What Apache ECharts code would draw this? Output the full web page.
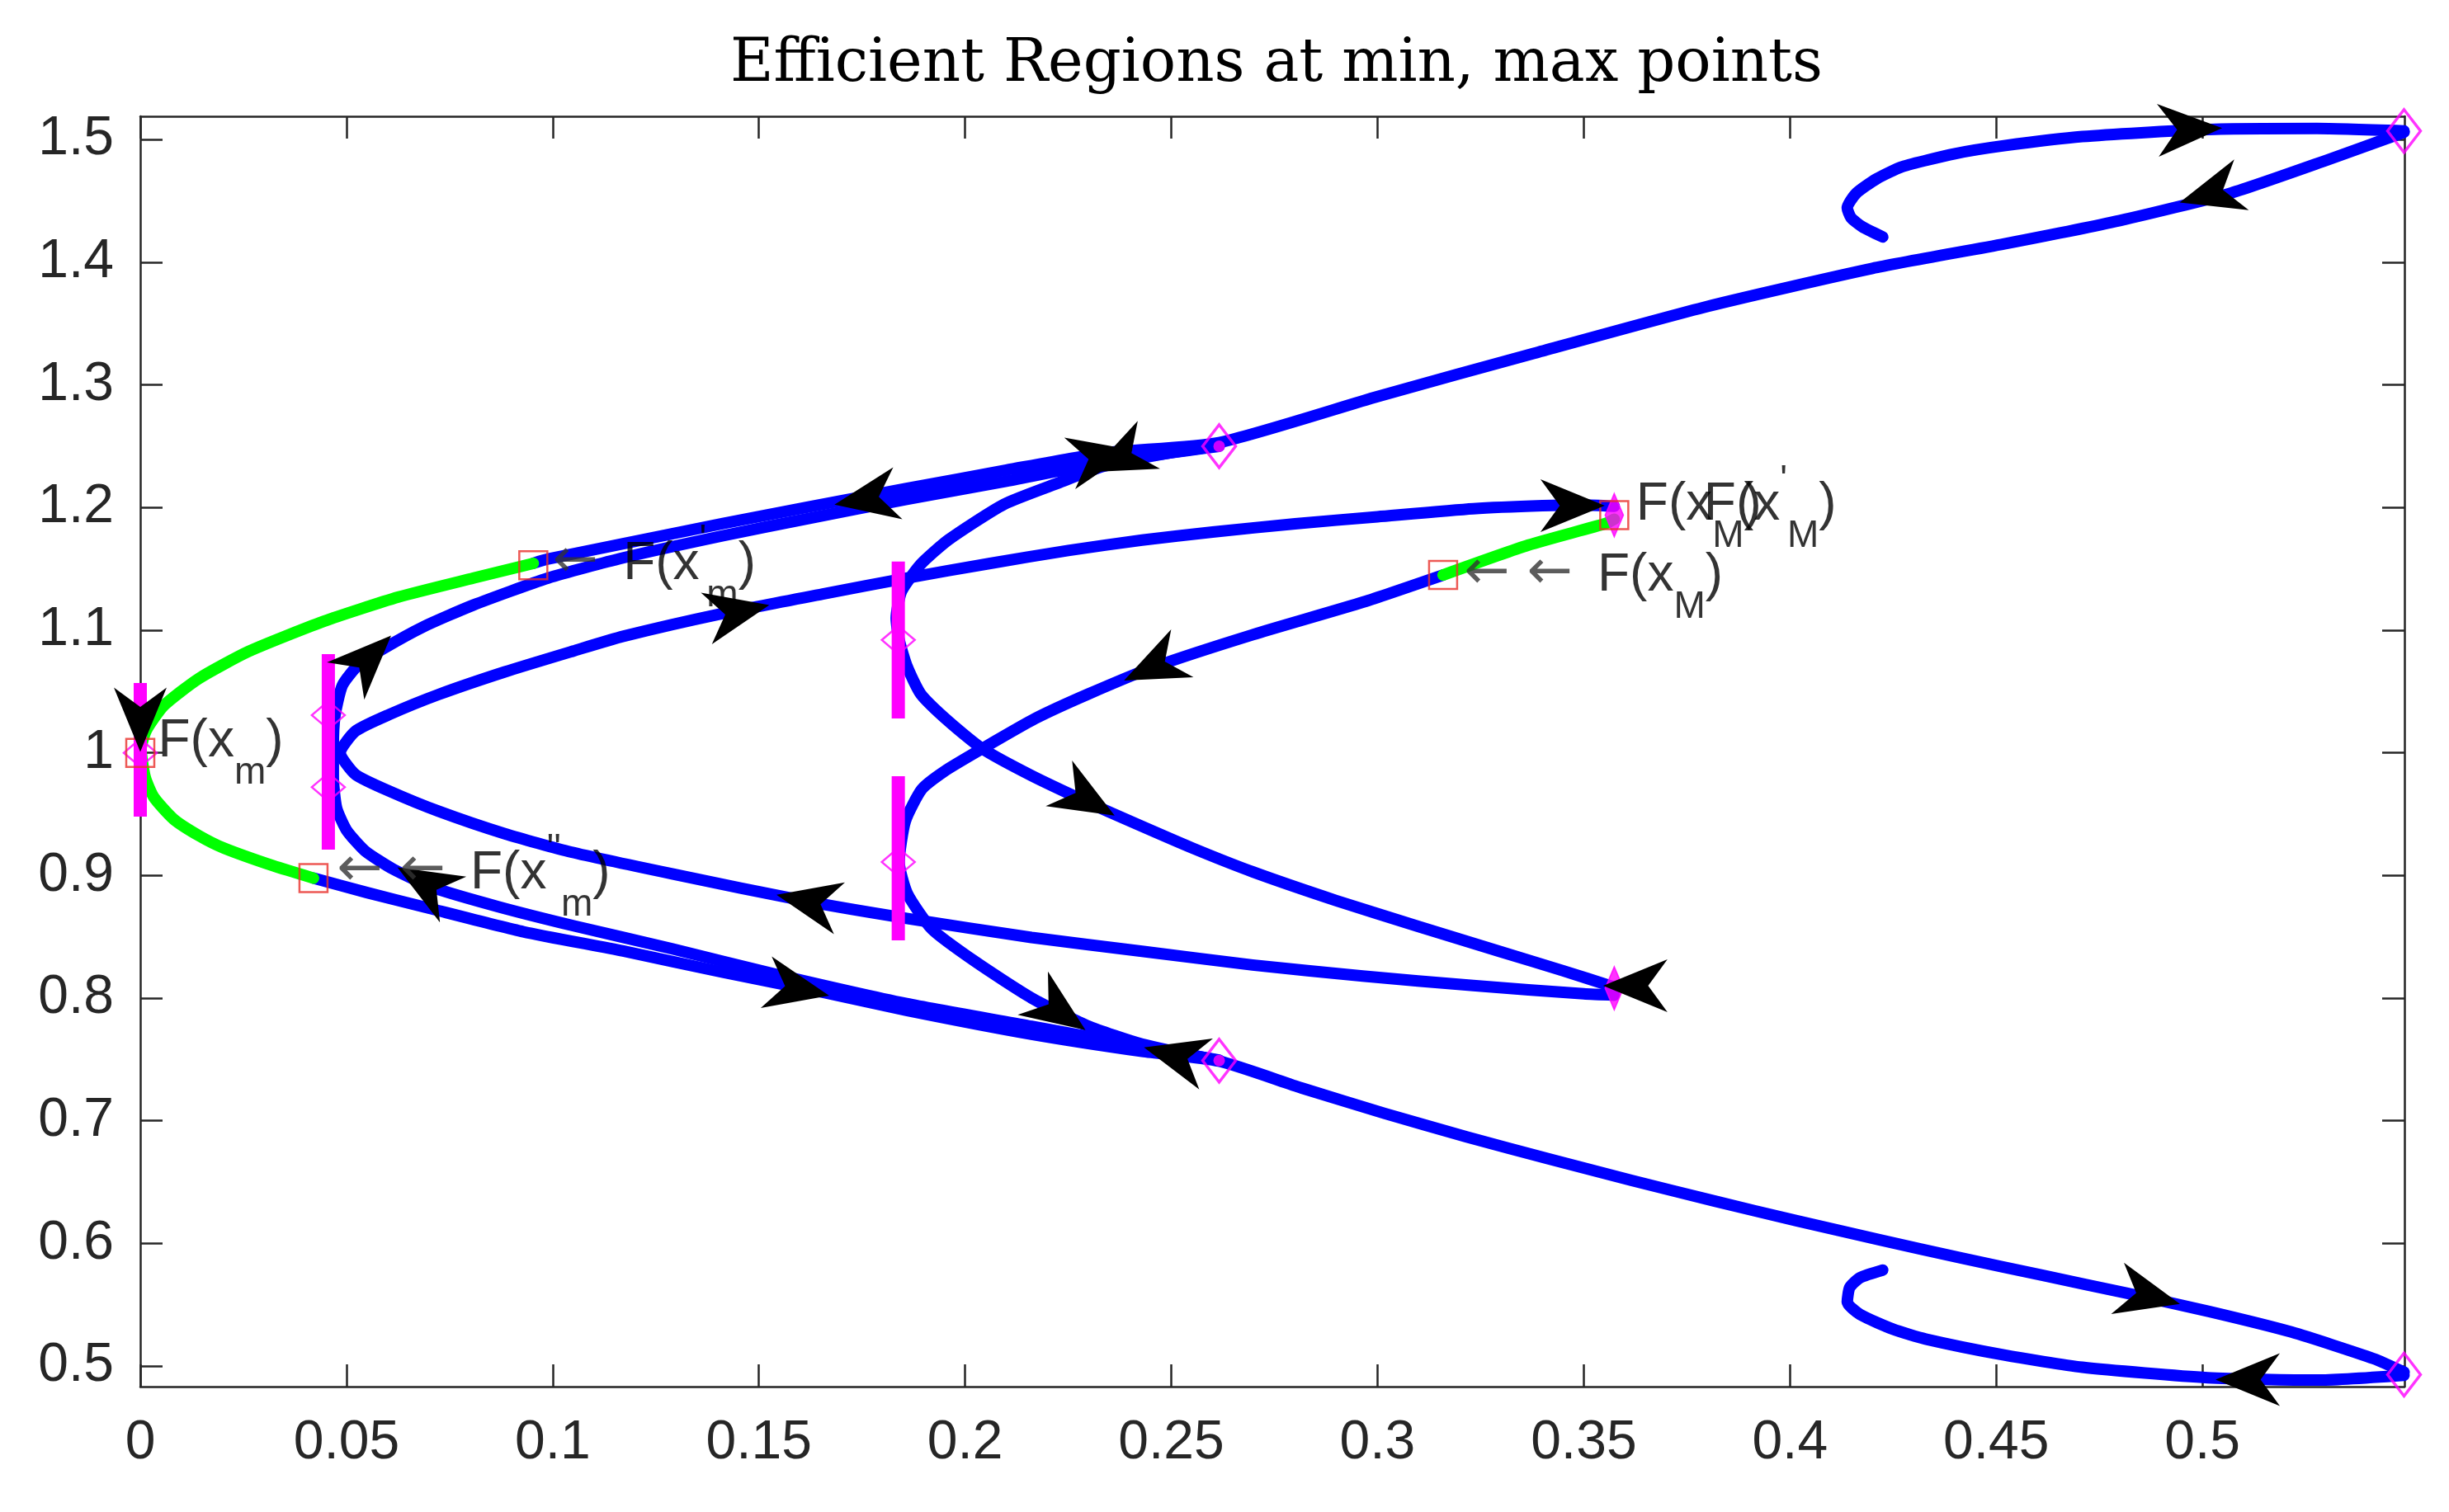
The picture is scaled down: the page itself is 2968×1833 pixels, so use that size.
<!DOCTYPE html>
<html>
<head>
<meta charset="utf-8">
<script src="https://cdn.jsdelivr.net/npm/echarts@6/dist/echarts.min.js"></script>
<style>
html,body{margin:0;padding:0;background:#fff;}
#chart{width:2968px;height:1833px;}
</style>
</head>
<body>
<div id="chart"></div>
<script>
// ---------- data ----------
const xTicks = [0, 0.05, 0.1, 0.15, 0.2, 0.25, 0.3, 0.35, 0.4, 0.45, 0.5];
const yTicks = [0.5, 0.6, 0.7, 0.8, 0.9, 1, 1.1, 1.2, 1.3, 1.4, 1.5];
const titleText = 'Efficient Regions at min, max points';

const topHook = [[0.4225,1.4206],[0.4175,1.4290],[0.4148,1.4364],[0.4139,1.4443],[0.4160,1.4560],[0.4210,1.4680],[0.4272,1.4779],[0.4400,1.4885],[0.4519,1.4950],[0.4709,1.5025],[0.4994,1.5080],[0.5278,1.5090],[0.5489,1.5070]];
const outerUpper = [[0.5489,1.5060],[0.5300,1.4830],[0.5070,1.4565],[0.4800,1.4340],[0.4520,1.4150],[0.4200,1.3950],[0.3800,1.3640],[0.3380,1.3258],[0.3000,1.2905],[0.2616,1.2530],[0.2337,1.2445],[0.2100,1.2305],[0.1858,1.2155],[0.1620,1.2005],[0.1413,1.1870],[0.1171,1.1705],[0.0989,1.1580],[0.0953,1.1545]];
const greenLeft = [[0.0953,1.1545],[0.0808,1.1425],[0.0626,1.1270],[0.0444,1.1071],[0.0263,1.0827],[0.0142,1.0606],[0.0057,1.0385],[0.0015,1.0186],[0.0002,1.0030],[0.0012,0.9800],[0.0033,0.9638],[0.0081,0.9459],[0.0142,0.9325],[0.0202,0.9224],[0.0323,0.9078],[0.0420,0.8978]];
const outerLower = [[0.0420,0.8978],[0.0550,0.8860],[0.0686,0.8745],[0.0929,0.8541],[0.1171,0.8384],[0.1413,0.8210],[0.1655,0.8048],[0.1858,0.7900],[0.2161,0.7705],[0.2429,0.7565],[0.2616,0.7486],[0.2816,0.7267],[0.3016,0.7061],[0.3216,0.6868],[0.3416,0.6688],[0.3616,0.6514],[0.3816,0.6346],[0.4016,0.6185],[0.4216,0.6030],[0.4416,0.5880],[0.4616,0.5737],[0.4816,0.5594],[0.5016,0.5445],[0.5216,0.5277],[0.5416,0.5059],[0.5489,0.4950]];
const bottomHook = [[0.4225,0.5782],[0.4170,0.5720],[0.4145,0.5640],[0.4139,0.5521],[0.4170,0.5420],[0.4250,0.5300],[0.4329,0.5220],[0.4519,0.5090],[0.4709,0.4990],[0.5013,0.4905],[0.5278,0.4885],[0.5489,0.4925]];
const innerCurve = [[0.2616,0.7495],[0.2429,0.7605],[0.2161,0.7770],[0.1858,0.7955],[0.1534,0.8200],[0.1292,0.8400],[0.1050,0.8590],[0.0868,0.8745],[0.0711,0.8900],[0.0614,0.9050],[0.0545,0.9200],[0.0500,0.9370],[0.0476,0.9550],[0.0468,0.9800],[0.0468,1.0050],[0.0472,1.0300],[0.0490,1.0550],[0.0529,1.0717],[0.0590,1.0850],[0.0686,1.1027],[0.0807,1.1204],[0.0989,1.1425],[0.1171,1.1590],[0.1413,1.1770],[0.1620,1.1910],[0.1858,1.2066],[0.2100,1.2215],[0.2337,1.2370],[0.2616,1.2500]];
const midCurve = [[0.2616,1.2505],[0.2470,1.2430],[0.2335,1.2336],[0.2228,1.2203],[0.2094,1.2026],[0.1960,1.1738],[0.1893,1.1539],[0.1846,1.1318],[0.1833,1.1097],[0.1840,1.0920],[0.1860,1.0699],[0.1893,1.0477],[0.1960,1.0256],[0.2041,1.0035],[0.2161,0.9814],[0.2295,0.9600],[0.2402,0.9440],[0.2550,0.9225],[0.2697,0.9030],[0.2900,0.8795],[0.3098,0.8585],[0.3300,0.8377],[0.3450,0.8223],[0.3574,0.8090]];
const greenRight = [[0.3574,1.1905],[0.3554,1.1871],[0.3366,1.1694],[0.3159,1.1450]];
const midCurve2 = [[0.3159,1.1450],[0.2966,1.1230],[0.2698,1.0964],[0.2457,1.0699],[0.2297,1.0477],[0.2170,1.0280],[0.2042,1.0035],[0.1950,0.9850],[0.1895,0.9703],[0.1855,0.9442],[0.1840,0.9110],[0.1860,0.8852],[0.1920,0.8561],[0.2027,0.8292],[0.2161,0.8001],[0.2295,0.7777],[0.2429,0.7625],[0.2616,0.7490]];
const vCurve = [[0.3574,1.2010],[0.3500,1.2020],[0.3400,1.2015],[0.3232,1.1990],[0.3000,1.1925],[0.2800,1.1868],[0.2600,1.1800],[0.2429,1.1735],[0.2250,1.1650],[0.2058,1.1543],[0.1858,1.1425],[0.1655,1.1295],[0.1413,1.1137],[0.1171,1.0950],[0.1050,1.0830],[0.0884,1.0660],[0.0723,1.0475],[0.0603,1.0311],[0.0522,1.0177],[0.0485,1.0000],[0.0522,0.9823],[0.0603,0.9689],[0.0723,0.9524],[0.0884,0.9340],[0.1045,0.9190],[0.1292,0.9011],[0.1619,0.8787],[0.1858,0.8650],[0.2161,0.8494],[0.2429,0.8382],[0.2697,0.8270],[0.2964,0.8180],[0.3232,0.8102],[0.3500,0.8035],[0.3574,0.8024]];

const effX = [0, 0.0456, 0.1838, 0.1838];
const effYTop = [1.057, 1.0805, 1.156, 0.981];
const effYBottom = [0.948, 0.921, 1.028, 0.847];

const diamondSmall = [[0,1.0],[0.0456,1.0307],[0.0456,0.9720],[0.1838,1.0920],[0.1838,0.9110]];
const diamondLarge = [[0.2616,1.2500],[0.2616,0.7490],[0.5489,1.5070],[0.5489,0.4930]];
const diamondFilled = [[0.3574,1.1938],[0.3574,0.8080]];
const centerDots = [[0.2616,1.2500],[0.2616,0.7490]];
const squares = [[0,1.0],[0.0953,1.1530],[0.0420,0.8978],[0.3159,1.1450],[0.3574,1.1938]];

// arrowheads: [x, y, direction in degrees]
const arrows = [[0.4970,1.5085,2],[0.5020,1.4560,196],[0.1760,1.2070,190],[0.2330,1.2415,12],[0.2375,1.2400,205],
  [0.0553,1.0770,45],[0.1449,1.1150,12],[0.3473,1.2015,0],[0.2456,1.0700,205],[0.2295,0.9620,-30],
  [0.3625,0.8100,180],[0.1619,0.8787,168],[0.1594,0.8075,-12],[0.2509,0.7531,165],[0.2228,0.7890,-35],
  [0.0691,0.8935,150],[0.0000,1.0270,-90],[0.5110,0.4890,180],[0.4870,0.5570,-14]];

const labelAt = [[0.0953,1.1530],[0,1.0],[0.0420,0.8978],[0.3159,1.1450],[0.3574,1.1938],[0.3574,1.1938]];
const labelLead = ['\u2190', '', '\u2190 \u2190', '\u2190 \u2190', '', ''];
const labelMain = ['F(x', 'F(x', 'F(x', 'F(x', 'F(x', 'F(x'];
const labelPrime = ["'", '', "''", '', '', "'"];
const labelSub = ['m', 'm', 'm', 'M', 'M', 'M'];

// ---------- styles ----------
const BLUE = '#0000FF', GREEN = '#00FF00', MAG = '#FF00FF', RED = '#E8302A';
const labelShift = [[24,-52],[22,-65],[29,-57],[26,-50],[27,-64],[109,-64]];
const arrowPath = 'path://M100,50 L0,0 L30,50 L0,100 Z';

function lineS(data, color, width, z) {
  return {type:'line', data:data, showSymbol:false, symbol:'none', smooth:0.2,
    lineStyle:{color:color, width:width, cap:'round', join:'round'}, z:z, silent:true, animation:false};
}

const series = [];
[topHook, outerUpper, outerLower, bottomHook, innerCurve, midCurve, midCurve2, vCurve].forEach(d => series.push(lineS(d, BLUE, 14, 2)));
series.push(lineS(greenLeft, GREEN, 14, 3));
series.push(lineS(greenRight, GREEN, 14, 3));
effX.forEach((x, i) => {
  const s = lineS([[x, effYTop[i]], [x, effYBottom[i]]], MAG, 16, 4);
  s.smooth = false; s.lineStyle.cap = 'butt';
  series.push(s);
});
series.push({type:'scatter', data:diamondSmall, symbol:'diamond', symbolSize:[40,34], clip:false, z:5,
  itemStyle:{color:'rgba(0,0,0,0)', borderColor:MAG, borderWidth:2.5}});
series.push({type:'scatter', data:diamondLarge, symbol:'diamond', symbolSize:[40,52], clip:false, z:5,
  itemStyle:{color:'rgba(0,0,0,0)', borderColor:MAG, borderWidth:3.5}});
series.push({type:'scatter', data:diamondFilled, symbol:'diamond', symbolSize:[22,52], clip:false, z:5,
  itemStyle:{color:MAG, borderColor:MAG, borderWidth:2}});
series.push({type:'scatter', data:centerDots, symbol:'circle', symbolSize:14, clip:false, z:5,
  itemStyle:{color:MAG}});
series.push({type:'scatter', data:squares, symbol:'rect', symbolSize:34, clip:false, z:5,
  itemStyle:{color:'rgba(0,0,0,0)', borderColor:RED, borderWidth:2.5}});
series.push({type:'scatter', symbol:arrowPath, symbolSize:[78,64], clip:false, z:6,
  itemStyle:{color:'#000000', opacity:1},
  data:arrows.map(a => ({value:[a[0], a[1]], symbolRotate:a[2]}))});
series.push({type:'scatter', symbolSize:1, clip:false, z:7, itemStyle:{color:'rgba(0,0,0,0)'},
  label:{show:true, align:'left', verticalAlign:'top',
    rich:{
      arw:{fontFamily:'DejaVu Sans', fontSize:66, lineHeight:66, color:'#333', verticalAlign:'top', padding:[16,30,0,0]},
      txt:{fontFamily:'Liberation Sans', fontSize:64, lineHeight:64, color:'#000', verticalAlign:'top', padding:[20,0,0,0]},
      sub:{fontFamily:'Liberation Sans', fontSize:46, lineHeight:46, color:'#000', verticalAlign:'top', padding:[67,0,0,0]},
      pr:{fontFamily:'Liberation Sans', fontSize:46, lineHeight:46, color:'#000', verticalAlign:'top', padding:[0,0,0,0]}
    }},
  data:labelAt.map((p, i) => {
    let s = '';
    if (labelLead[i]) s += '{arw|' + labelLead[i] + '}';
    s += '{txt|' + labelMain[i] + '}';
    if (labelPrime[i]) s += '{pr|' + labelPrime[i] + '}';
    s += '{sub|' + labelSub[i] + '}{txt|)}';
    return {value:p, label:{formatter:s, position:labelShift[i]}};
  })});

const AX = '#262626';
function xAx(pos, show) {
  return {type:'value', min:0, max:0.549, position:pos,
    axisLine:{show:true, onZero:false, lineStyle:{color:AX, width:2.5}},
    axisTick:{show:true, inside:true, length:27, customValues:xTicks, lineStyle:{color:AX, width:2.5}},
    axisLabel:{show:show, customValues:xTicks, margin:36, fontSize:66, fontFamily:'Liberation Sans', color:AX,
      formatter:v => String(Math.round(v * 100) / 100)},
    splitLine:{show:false}};
}
function yAx(pos, show) {
  return {type:'value', min:0.4832, max:1.519, position:pos,
    axisLine:{show:true, onZero:false, lineStyle:{color:AX, width:2.5}},
    axisTick:{show:true, inside:true, length:27, customValues:yTicks, lineStyle:{color:AX, width:2.5}},
    axisLabel:{show:show, customValues:yTicks, margin:32, fontSize:66, fontFamily:'Liberation Sans', color:AX,
      formatter:v => String(Math.round(v * 10) / 10)},
    splitLine:{show:false}};
}

const chart = echarts.init(document.getElementById('chart'), null, {renderer:'canvas'});
chart.setOption({
  animation:false,
  backgroundColor:'#ffffff',
  title:{text:titleText, left:1542, top:38, textAlign:'center',
    textStyle:{fontFamily:'DejaVu Serif', fontSize:72, fontWeight:'normal', color:'#000'}},
  grid:{left:170, right:54, top:141, bottom:152, containLabel:false, outerBoundsMode:'none'},
  xAxis:[xAx('bottom', true), xAx('top', false)],
  yAxis:[yAx('left', true), yAx('right', false)],
  series:series
});
</script>
</body>
</html>
